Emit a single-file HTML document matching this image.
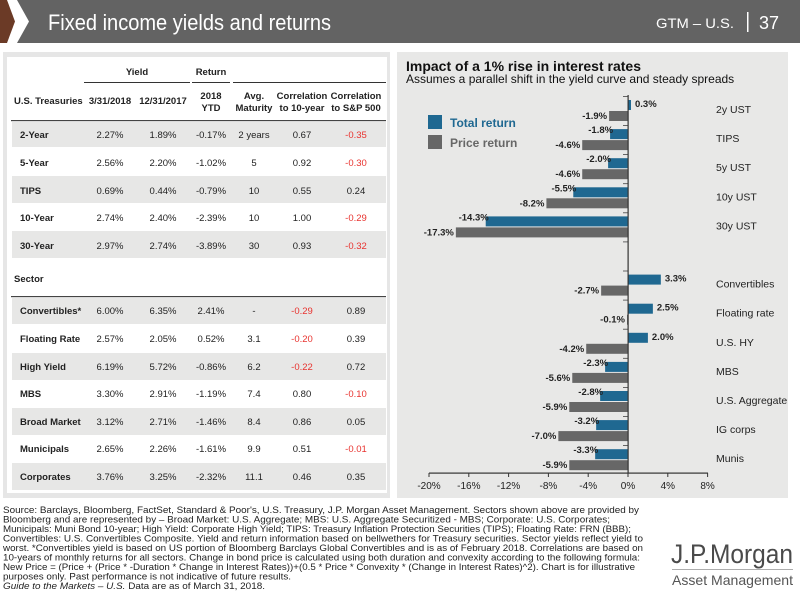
<!DOCTYPE html>
<html><head><meta charset="utf-8"><style>
html,body{margin:0;padding:0;background:#fff}
svg{display:block}
text{font-family:"Liberation Sans",Arial,sans-serif}
</style></head><body>
<svg width="800" height="603" viewBox="0 0 800 603" xmlns="http://www.w3.org/2000/svg">
<rect width="800" height="603" fill="#fff"/>
<polygon points="17,0 800,0 800,43 17,43 29,21.5" fill="#636363"/>
<polygon points="0,0 7,0 15,21.5 7,43 0,43" fill="#6b3a26"/>
<text x="48" y="30" font-size="22" fill="#fff" textLength="283" lengthAdjust="spacingAndGlyphs">Fixed income yields and returns</text>
<text x="734" y="28" font-size="14" fill="#fff" text-anchor="end" textLength="78" lengthAdjust="spacingAndGlyphs">GTM – U.S.</text>
<rect x="747" y="12" width="1.5" height="20" fill="#fff"/>
<text x="759" y="29" font-size="18" fill="#fff">37</text>

<rect x="3" y="52" width="387" height="446" fill="#e6e6e6"/>
<rect x="7" y="57" width="380" height="436" fill="#fff"/>
<g font-size="9.5" fill="#222">
<text x="137" y="75" font-weight="bold" text-anchor="middle">Yield</text>
<text x="211" y="75" font-weight="bold" text-anchor="middle">Return</text>
<rect x="84" y="82" width="106" height="1" fill="#333"/>
<rect x="192" y="82" width="38" height="1" fill="#333"/>
<rect x="233" y="82" width="153" height="1" fill="#333"/>
<text x="14" y="104" font-weight="bold">U.S. Treasuries</text>
<text x="110" y="104" font-weight="bold" text-anchor="middle">3/31/2018</text>
<text x="163" y="104" font-weight="bold" text-anchor="middle">12/31/2017</text>
<text x="211" y="99" font-weight="bold" text-anchor="middle">2018</text>
<text x="211" y="111" font-weight="bold" text-anchor="middle">YTD</text>
<text x="254" y="99" font-weight="bold" text-anchor="middle">Avg.</text>
<text x="254" y="111" font-weight="bold" text-anchor="middle">Maturity</text>
<text x="302" y="99" font-weight="bold" text-anchor="middle">Correlation</text>
<text x="302" y="111" font-weight="bold" text-anchor="middle">to 10-year</text>
<text x="356" y="99" font-weight="bold" text-anchor="middle">Correlation</text>
<text x="356" y="111" font-weight="bold" text-anchor="middle">to S&amp;P 500</text>
<rect x="11" y="120" width="375" height="1.2" fill="#444"/>
<rect x="12" y="122" width="374" height="25" fill="#e7e7e6"/>
<rect x="12" y="176" width="374" height="27" fill="#e7e7e6"/>
<rect x="12" y="231" width="374" height="27" fill="#e7e7e6"/>
<text x="14" y="282" font-weight="bold">Sector</text>
<rect x="11" y="296" width="375" height="1.2" fill="#444"/>
<rect x="12" y="298" width="374" height="26" fill="#e7e7e6"/>
<rect x="12" y="353" width="374" height="27" fill="#e7e7e6"/>
<rect x="12" y="408" width="374" height="27" fill="#e7e7e6"/>
<rect x="12" y="463" width="374" height="27" fill="#e7e7e6"/>
</g>
<g font-size="9.5" fill="#222" id="rows"></g>

<rect x="397" y="52" width="391" height="446" fill="#e8e8e7"/>
<text x="406" y="71" font-size="14" font-weight="bold" fill="#111">Impact of a 1% rise in interest rates</text>
<text x="406" y="83" font-size="12" fill="#111">Assumes a parallel shift in the yield curve and steady spreads</text>
<rect x="428" y="115" width="14" height="14" fill="#1f6891"/>
<text x="450" y="127" font-size="12" font-weight="bold" fill="#1f6891">Total return</text>
<rect x="428" y="135" width="14" height="14" fill="#676767"/>
<text x="450" y="147" font-size="12" font-weight="bold" fill="#676767">Price return</text>
<g id="chart"></g>

<g font-size="9.5" fill="#222">
<text x="3" y="513" textLength="636" lengthAdjust="spacingAndGlyphs">Source: Barclays, Bloomberg, FactSet, Standard &amp; Poor's, U.S. Treasury, J.P. Morgan Asset Management. Sectors shown above are provided by</text>
<text x="3" y="522.5" textLength="607" lengthAdjust="spacingAndGlyphs">Bloomberg and are represented by – Broad Market: U.S. Aggregate; MBS: U.S. Aggregate Securitized - MBS; Corporate: U.S. Corporates;</text>
<text x="3" y="532" textLength="628" lengthAdjust="spacingAndGlyphs">Municipals: Muni Bond 10-year; High Yield: Corporate High Yield; TIPS: Treasury Inflation Protection Securities (TIPS); Floating Rate: FRN (BBB);</text>
<text x="3" y="541.5" textLength="640" lengthAdjust="spacingAndGlyphs">Convertibles: U.S. Convertibles Composite. Yield and return information based on bellwethers for Treasury securities. Sector yields reflect yield to</text>
<text x="3" y="551" textLength="640" lengthAdjust="spacingAndGlyphs">worst. *Convertibles yield is based on US portion of Bloomberg Barclays Global Convertibles and is as of February 2018. Correlations are based on</text>
<text x="3" y="560.5" textLength="637" lengthAdjust="spacingAndGlyphs">10-years of monthly returns for all sectors. Change in bond price is calculated using both duration and convexity according to the following formula:</text>
<text x="3" y="570" textLength="632" lengthAdjust="spacingAndGlyphs">New Price = (Price + (Price * -Duration * Change in Interest Rates))+(0.5 * Price * Convexity * (Change in Interest Rates)^2). Chart is for illustrative</text>
<text x="3" y="579.5" textLength="288" lengthAdjust="spacingAndGlyphs">purposes only. Past performance is not indicative of future results.</text>
<text x="3" y="589" textLength="262" lengthAdjust="spacingAndGlyphs"><tspan font-style="italic">Guide to the Markets – U.S.</tspan> Data are as of March 31, 2018.</text>
</g>
<text x="671" y="563" font-size="27" font-family="Liberation Serif,serif" fill="#4a4a4a" textLength="122" lengthAdjust="spacingAndGlyphs">J.P.Morgan</text>
<rect x="672" y="569" width="121" height="0.8" fill="#999"/>
<text x="672" y="585" font-size="14" fill="#555" textLength="121" lengthAdjust="spacingAndGlyphs">Asset Management</text>
</svg>
<script>
var NS="http://www.w3.org/2000/svg";
function T(p,x,y,s,o){var t=document.createElementNS(NS,"text");t.setAttribute("x",x);t.setAttribute("y",y);for(var k in o)t.setAttribute(k,o[k]);t.textContent=s;p.appendChild(t);return t;}
function R(p,x,y,w,h,f){var r=document.createElementNS(NS,"rect");r.setAttribute("x",x);r.setAttribute("y",y);r.setAttribute("width",w);r.setAttribute("height",h);r.setAttribute("fill",f);p.appendChild(r);}
var rows=document.getElementById("rows");
var data=[
[138,"2-Year","2.27%","1.89%","-0.17%","2 years","0.67","-0.35"],
[166,"5-Year","2.56%","2.20%","-1.02%","5","0.92","-0.30"],
[194,"TIPS","0.69%","0.44%","-0.79%","10","0.55","0.24"],
[221,"10-Year","2.74%","2.40%","-2.39%","10","1.00","-0.29"],
[249,"30-Year","2.97%","2.74%","-3.89%","30","0.93","-0.32"],
[314,"Convertibles*","6.00%","6.35%","2.41%","-","-0.29","0.89"],
[342,"Floating Rate","2.57%","2.05%","0.52%","3.1","-0.20","0.39"],
[370,"High Yield","6.19%","5.72%","-0.86%","6.2","-0.22","0.72"],
[397,"MBS","3.30%","2.91%","-1.19%","7.4","0.80","-0.10"],
[425,"Broad Market","3.12%","2.71%","-1.46%","8.4","0.86","0.05"],
[452,"Municipals","2.65%","2.26%","-1.61%","9.9","0.51","-0.01"],
[480,"Corporates","3.76%","3.25%","-2.32%","11.1","0.46","0.35"]];
var cx=[110,163,211,254,302,356];
data.forEach(function(d){T(rows,20,d[0],d[1],{"font-weight":"bold"});
for(var i=0;i<6;i++){var s=d[i+2];T(rows,cx[i],d[0],s,{"text-anchor":"middle",fill:(i>=4&&s[0]=="-"&&s.length>1)?"#e8332f":"#222"});}});
var c=document.getElementById("chart");
function X(v){return 628+v*9.95;}
var cats=[["2y UST",0.3,-1.9],["TIPS",-1.8,-4.6],["5y UST",-2.0,-4.6],["10y UST",-5.5,-8.2],["30y UST",-14.3,-17.3],null,
["Convertibles",3.3,-2.7],["Floating rate",2.5,-0.1],["U.S. HY",2.0,-4.2],["MBS",-2.3,-5.6],["U.S. Aggregate",-2.8,-5.9],["IG corps",-3.2,-7.0],["Munis",-3.3,-5.9]];
var y0=100,step=29.1;
cats.forEach(function(k,i){var top=y0+step*i;R(c,623,top-4,5,0.8,"#444");if(!k)return;
function bar(v,t,col){var x1=Math.min(X(v),X(0)),w=Math.abs(X(v)-X(0));R(c,x1,t,Math.max(w,1),10,col);}
bar(k[1],top,"#1f6891");bar(k[2],top+11,"#676767");
var o={"font-size":"9.5","font-weight":"bold",fill:"#222"};
if(k[1]>0)T(c,X(k[1])+4,top+7,k[1].toFixed(1)+"%",o);else{o["text-anchor"]="end";T(c,X(k[1])+3,top+4,k[1].toFixed(1)+"%",o);}
var o2={"font-size":"9.5","font-weight":"bold",fill:"#222","text-anchor":"end"};T(c,X(k[2])-2,top+19,k[2].toFixed(1)+"%",o2);
T(c,716,top+13,k[0],{"font-size":"10.5",fill:"#222"});});
R(c,627.5,95,1.2,378,"#333");
R(c,429,472.5,279,1.2,"#333");
for(var v=-20;v<=8;v+=4){R(c,X(v)-0.5,473,1,4,"#333");T(c,X(v),489,v+"%",{"font-size":"10","text-anchor":"middle",fill:"#222"});}
</script>
</body></html>
